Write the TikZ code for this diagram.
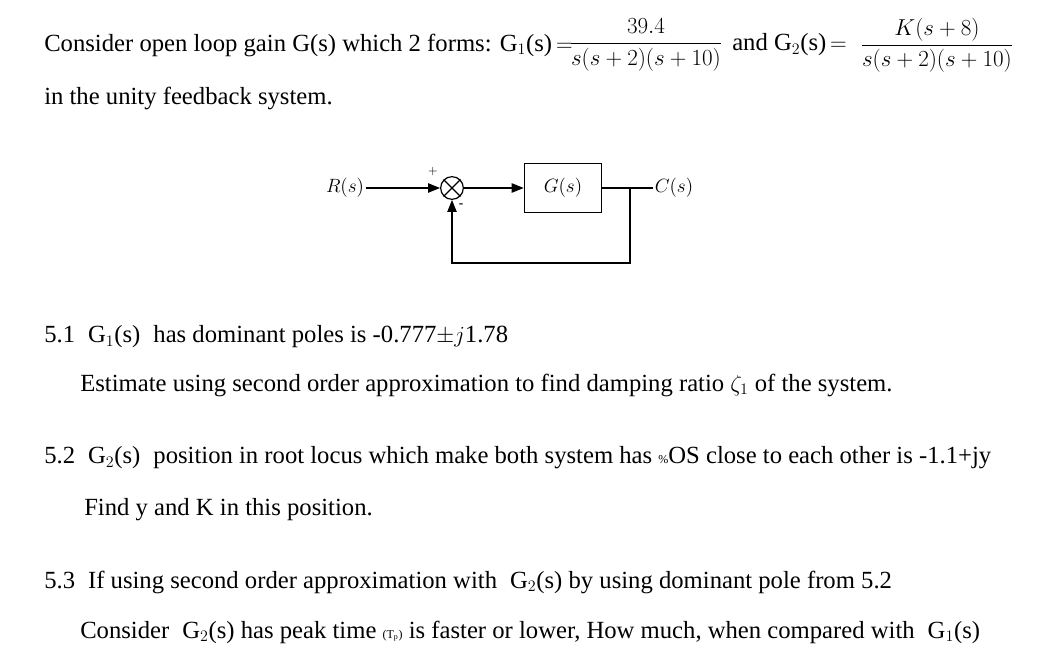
\documentclass[tikz,border=0pt]{standalone}
\usepackage{fontspec}
\setmainfont{Liberation Serif}
\usetikzlibrary{arrows.meta}
\begin{document}
\begin{tikzpicture}[x=0.75pt,y=-0.75pt,
  txt/.style={anchor=west,inner sep=0pt,font=\fontsize{18.5}{22}\selectfont},
  frc/.style={inner sep=0pt,font=\fontsize{18.5}{22}\selectfont},
  lbl/.style={inner sep=1pt,font=\fontsize{15}{18}\selectfont},
  ln/.style={line width=0.9pt},
  arr/.style={ln,-{Triangle[length=9pt,width=7pt]}}]
\useasboundingbox (0,0) rectangle (1064,670);
\node[txt] (l1) at (44,45) {Consider open loop gain G(s) which 2 forms: G$_1$(s)$\,=$};
\node[frc] (f1) at (646,45) {$\displaystyle\frac{39.4}{s(s+2)(s+10)}$};
\node[txt] (l1b) at (732,45) {and G$_2$(s)$\,=$};
\node[frc] (f2) at (937,45) {$\displaystyle\frac{K(s+8)}{s(s+2)(s+10)}$};
\node[txt] (l2) at (44,98) {in the unity feedback system.};
% block diagram
\node[lbl] (R) at (345,188) {$R(s)$};
\node[draw,circle,ln,minimum size=17pt,inner sep=0pt] (sum) at (452,188) {};
\draw[ln] (sum.north west)--(sum.south east) (sum.north east)--(sum.south west);
\node[draw,ln,minimum width=58pt,minimum height=37pt] (G) at (563,188) {\fontsize{15}{18}\selectfont$G(s)$};
\node[lbl] (C) at (674,188) {$C(s)$};
\coordinate (br) at (630,188);
\coordinate (d1) at (630,263);
\coordinate (d2) at (452,263);
\node[font=\small] (plus) at (433,172) {$+$};
\node[font=\bfseries] (minus) at (461,206) {-};
\draw[arr] (R)--(sum);
\draw[arr] (sum)--(G);
\draw[ln] (G)--(C);
\draw[arr] (br)--(d1)--(d2)--(sum);
% questions
\node[txt] (q1) at (44,337) {5.1\; G$_1$(s)\; has dominant poles is -0.777$\pm j$1.78};
\node[txt] (q1b) at (80,385) {Estimate using second order approximation to find damping ratio $\zeta_1$ of the system.};
\node[txt] (q2) at (44,458) {5.2\; G$_2$(s)\; position in root locus which make both system has {\small\%}OS close to each other is -1.1+jy};
\node[txt] (q2b) at (84,510) {Find y and K in this position.};
\node[txt] (q3) at (44,582) {5.3\; If using second order approximation with \;G$_2$(s) by using dominant pole from 5.2};
\node[txt] (q3b) at (80,632) {Consider \;G$_2$(s) has peak time {\small(T$_\mathrm{p}$)} is faster or lower, How much, when compared with \;G$_1$(s)};
\end{tikzpicture}
\end{document}
